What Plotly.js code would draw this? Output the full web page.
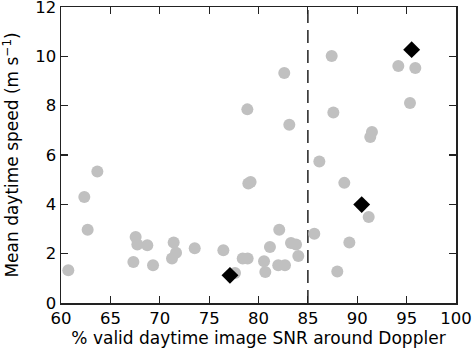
<!DOCTYPE html>
<html><head><meta charset="utf-8">
<script src="https://cdn.plot.ly/plotly-3.0.1.min.js"></script>
<style>body{margin:0;background:#fff}#c{width:474px;height:353px}</style>
</head><body><div id="c"></div>
<script>
const greyX = [60.74,62.36,62.70,63.68,67.56,67.73,68.74,67.33,69.32,71.41,71.65,71.24,73.54,
  76.44,78.4,78.9,77.62,78.87,78.97,79.2,82.61,83.12,82.1,81.16,80.56,80.69,82.0,82.68,83.29,83.80,84.03,
  85.65,86.16,87.41,87.58,88.69,89.2,87.98,91.16,91.49,91.32,94.16,95.88,95.34];
const greyY = [1.33,4.30,2.97,5.33,2.68,2.37,2.34,1.66,1.53,2.45,2.04,1.80,2.22,
  2.14,1.80,1.80,1.22,7.85,4.84,4.91,9.32,7.23,2.97,2.27,1.69,1.26,1.53,1.53,2.43,2.37,1.91,
  2.81,5.74,10.01,7.72,4.87,2.45,1.28,3.49,6.93,6.73,9.61,9.53,8.11];
const blackX = [77.11,90.45,95.51];
const blackY = [1.12,3.99,10.27];
const dividerX = [85,85];
const dividerY = [0,12];
const xTicks = [60,65,70,75,80,85,90,95,100];
const yTicks = [0,2,4,6,8,10,12];

const tickFont = {family:'DejaVu Sans', size:16.5, color:'#000'};
const titleFont = {family:'DejaVu Sans', size:17, color:'#000'};
const traces = [
  {x:dividerX, y:dividerY, mode:'lines', line:{color:'#222', width:1.5, dash:'13px,7px'}, hoverinfo:'skip'},
  {x:greyX, y:greyY, mode:'markers', type:'scatter', marker:{symbol:'circle', size:12, color:'#c0c0c0'}},
  {x:blackX, y:blackY, mode:'markers', type:'scatter', marker:{symbol:'diamond', size:13, color:'#000'}}
];
const axBase = {showgrid:false, zeroline:false, showline:true, linecolor:'#222', linewidth:1.5,
  mirror:'ticks', ticks:'inside', ticklen:7, tickwidth:1.2, tickcolor:'#222', tickfont:tickFont,
  ticklabeloverflow:'allow'};
const layout = {
  width:474, height:353, showlegend:false,
  margin:{l:61, r:18, t:7, b:50},
  paper_bgcolor:'#fff', plot_bgcolor:'#fff', font:tickFont,
  xaxis:Object.assign({}, axBase, {range:[60,100], tickvals:xTicks, ticktext:xTicks.map(String),
    title:{text:'% valid daytime image SNR around Doppler', font:titleFont, standoff:3}}),
  yaxis:Object.assign({}, axBase, {range:[0,12], tickvals:yTicks, ticktext:yTicks.map(String),
    title:{text:'Mean daytime speed (m s<sup>\u22121</sup>)', font:titleFont, standoff:13}})
};
Plotly.newPlot('c', traces, layout, {staticPlot:true});
</script></body></html>
